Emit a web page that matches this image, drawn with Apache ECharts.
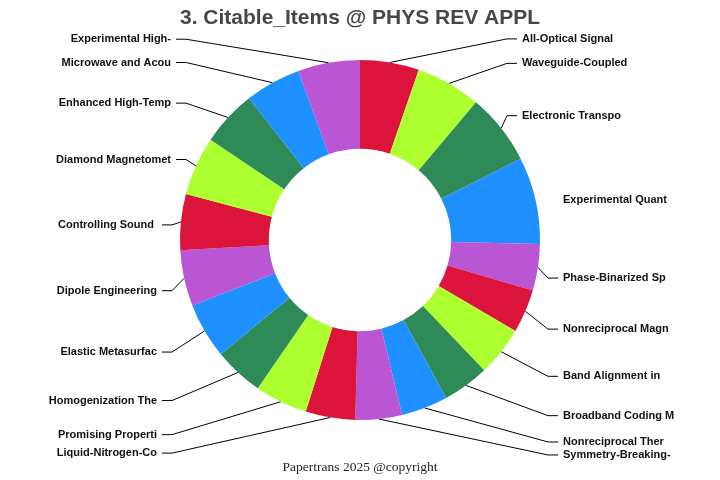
<!DOCTYPE html>
<html>
<head>
<meta charset="utf-8">
<title>Citable Items</title>
<script src="https://cdn.jsdelivr.net/npm/echarts@6/dist/echarts.min.js"></script>
<style>
  html, body { margin: 0; padding: 0; background: #fff; }
  #chart { width: 720px; height: 480px; }
</style>
</head>
<body>
<div id="chart"></div>
<script>
// -- Data (titles truncated to 18 chars, as in the source chart) --
const categories = [
  'All-Optical Signal', 'Waveguide-Coupled', 'Electronic Transpo', 'Experimental Quant',
  'Phase-Binarized Sp', 'Nonreciprocal Magn', 'Band Alignment in', 'Broadband Coding M',
  'Nonreciprocal Ther', 'Symmetry-Breaking-', 'Liquid-Nitrogen-Co', 'Promising Properti',
  'Homogenization The', 'Elastic Metasurfac', 'Dipole Engineering', 'Controlling Sound ',
  'Diamond Magnetomet', 'Enhanced High-Temp', 'Microwave and Acou', 'Experimental High-'
];
const citableItems = [19, 21, 23, 28, 15, 14, 16, 15, 15, 15, 16, 17, 16, 18, 18, 18, 19, 18, 18, 20];
// slices drawn without a guide line in the source
const noLineItems = ['Experimental Quant'];

// -- Palette cycling through the slices --
const PALETTE = ['#DC143C', '#ADFF2F', '#2E8B57', '#1E90FF', '#BA55D3'];

// -- Label placement: y from ECharts' own outer layout, x snapped to a column per side --
const LINE_LEN = 30;
const LINE_LEN2 = 10;
const LABEL_DY = 6;
const COLUMN = 198;                          // line end distance from centre
const UPPER_COLUMN = { left: 184, right: 157 }; // labels well above the centre sit closer in
const UPPER_LIMIT = 65;                      // px above centre where the upper column starts

const chart = echarts.init(document.getElementById('chart'), null, { renderer: 'canvas' });

function placeLabel(p) {
  const cx = chart.getWidth() / 2;
  const cy = chart.getHeight() / 2;
  const pts = p.labelLinePoints;
  const rect = p.labelRect;
  const refX = pts ? pts[2][0] : rect.x + rect.width / 2;
  const dir = refX < cx ? -1 : 1;
  const y = (pts ? pts[2][1] : rect.y + rect.height / 2) + LABEL_DY;
  const col = y < cy - UPPER_LIMIT ? UPPER_COLUMN[dir < 0 ? 'left' : 'right'] : COLUMN;
  const x3 = cx + dir * col;
  const out = { x: x3 + dir * 5, y: y, align: dir < 0 ? 'right' : 'left', verticalAlign: 'middle' };
  if (pts) out.labelLinePoints = [pts[0], [x3 - dir * LINE_LEN2, y], [x3, y]];
  return out;
}

chart.setOption({
  color: PALETTE,
  animation: false,
  title: {
    text: '3. Citable_Items @ PHYS REV APPL',
    left: 'center',
    top: 3,
    textStyle: { fontFamily: 'Arial', fontSize: 21, fontWeight: 'bold', color: '#464646' }
  },
  graphic: [{
    type: 'text',
    left: 'center',
    top: 460,
    style: { text: 'Papertrans 2025 @copyright', font: '13.5px "Times New Roman", serif', fill: '#222' }
  }],
  series: [{
    type: 'pie',
    radius: ['38%', '75%'],
    center: ['50%', '50%'],
    startAngle: 90,
    label: {
      show: true,
      formatter: '{b}',
      fontFamily: 'Arial',
      fontSize: 11,
      fontWeight: 'bold',
      color: '#111'
    },
    labelLine: {
      show: true,
      length: LINE_LEN,
      length2: LINE_LEN2,
      lineStyle: { color: '#000', width: 1 }
    },
    labelLayout: placeLabel,
    data: categories.map((name, i) => ({
      name,
      value: citableItems[i],
      labelLine: noLineItems.includes(name) ? { show: false } : undefined
    }))
  }]
});
</script>
</body>
</html>
